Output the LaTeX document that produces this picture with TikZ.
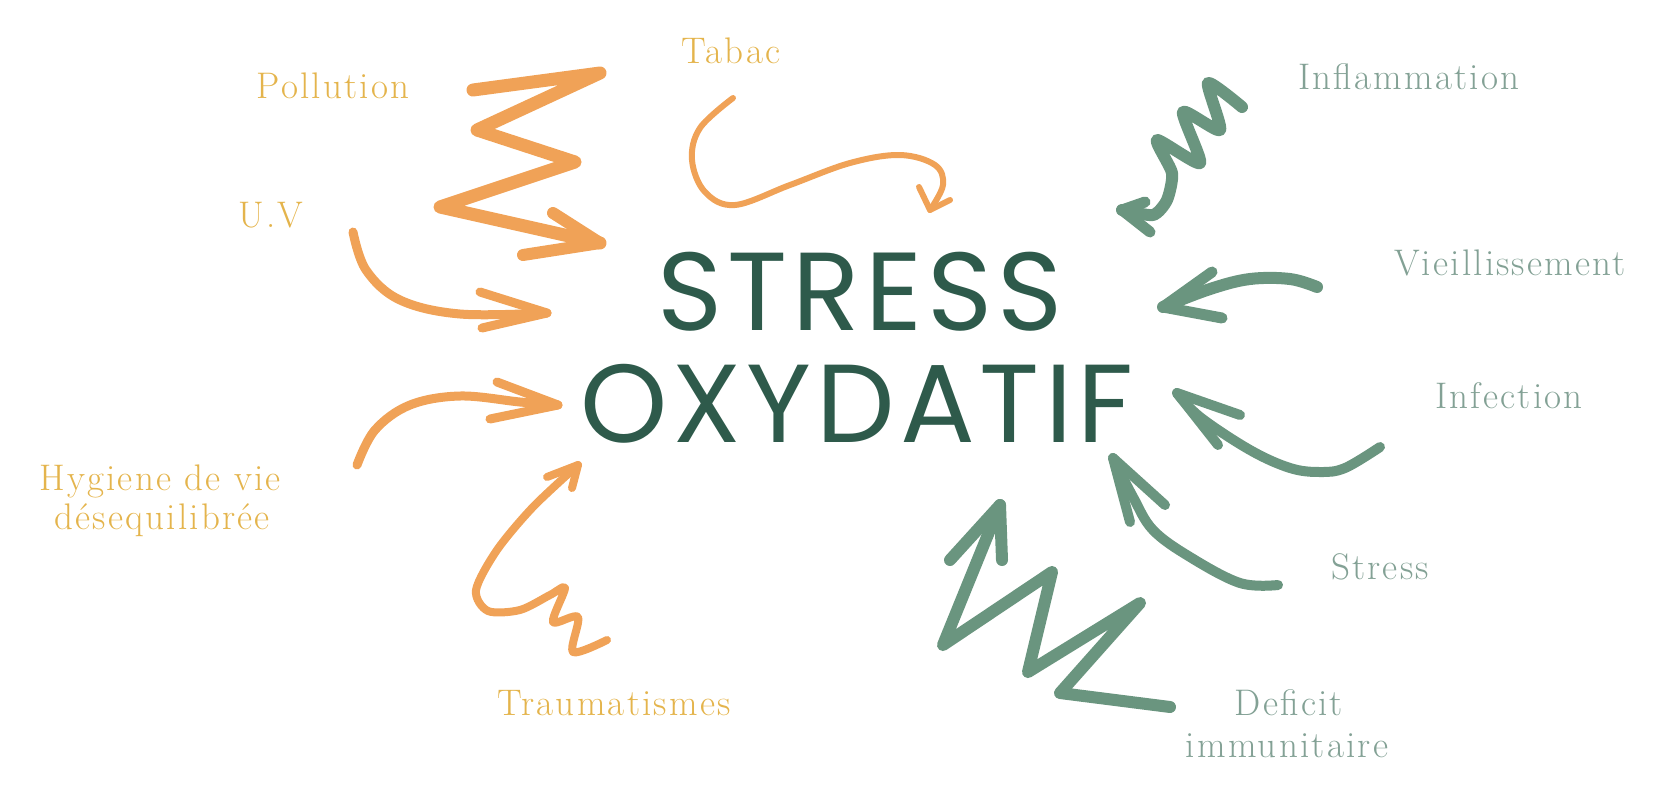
\documentclass[tikz,border=0pt]{standalone}
\usepackage{fontspec}
\newfontfamily\titlefont{Poppins}[LetterSpace=4.5]
\newfontfamily\labelfont{Latin Modern Roman}[LetterSpace=6]

\definecolor{arroworange}{HTML}{F0A257}
\definecolor{labelorange}{HTML}{E4B44C}
\definecolor{arrowgreen}{HTML}{6A957F}
\definecolor{labelgreen}{HTML}{83A195}
\definecolor{titlegreen}{HTML}{2E5A4B}

\begin{document}
\begin{tikzpicture}[x=1pt, y=-1pt,
  orangearrow/.style={draw=arroworange, line width=#1pt, line cap=round, line join=round},
  greenarrow/.style={draw=arrowgreen, line width=#1pt, line cap=round, line join=round},
  orangelabel/.style={text=labelorange, font=\labelfont\fontsize{37}{40}\selectfont, anchor=base, inner sep=0pt},
  greenlabel/.style={text=labelgreen, font=\labelfont\fontsize{37}{40}\selectfont, anchor=base, inner sep=0pt},
  titleline/.style={text=titlegreen, font=\titlefont\fontsize{111}{111}\selectfont, anchor=base, inner sep=0pt}]

  \useasboundingbox (0,0) rectangle (1659,787);

  % Title
  \node[titleline] (stress) at (860,330) {STRESS};
  \node[titleline] (oxydatif) at (857,442) {OXYDATIF};

  % Labels on the left
  \node[orangelabel] (tabac) at (731,63) {Tabac};
  \node[orangelabel] (pollution) at (333,98) {Pollution};
  \node[orangelabel] (uv) at (271,227) {U.V};
  \node[orangelabel] (hygiene) at (160,490) {Hygiene de vie};
  \node[orangelabel] (desequilibree) at (162,529) {désequilibrée};
  \node[orangelabel] (traumatismes) at (614,715) {Traumatismes};

  % Labels on the right
  \node[greenlabel] (inflammation) at (1409,89) {Inflammation};
  \node[greenlabel] (vieillissement) at (1510,275) {Vieillissement};
  \node[greenlabel] (infection) at (1509,408) {Infection};
  \node[greenlabel] (stresslabel) at (1380,579) {Stress};
  \node[greenlabel] (deficit) at (1289,715) {Deficit};
  \node[greenlabel] (immunitaire) at (1287,757) {immunitaire};

  % Orange arrows
  \draw[orangearrow=13] (473,90) -- (600,73) -- (477,130) -- (575,162) -- (440,207) -- (600,243); % Pollution
  \draw[orangearrow=12] (553,213) -- (600,243) -- (523,255);
  \draw[orangearrow=9] plot[smooth, tension=0.6] coordinates {(353,232) (366,270) (400,300) (460,314) (547,313)}; % U.V
  \draw[orangearrow=9] (480,292) -- (547,313) -- (482,328);
  \draw[orangearrow=6] plot[smooth, tension=0.6] coordinates {(733,98) (700,128) (692,160) (705,192) (735,205) (790,185) (850,163) (900,155) (935,165) (943,185) (930,210)}; % Tabac
  \draw[orangearrow=6] (919,187) -- (930,210) -- (950,200);
  \draw[orangearrow=9] plot[smooth, tension=0.6] coordinates {(357,465) (375,430) (410,405) (460,396) (520,402) (558,405)}; % Hygiene
  \draw[orangearrow=9] (497,382) -- (558,405) -- (490,419);
  \draw[orangearrow=8] plot[smooth, tension=0.5] coordinates {(578,465) (533,507) (497,550) (476,590) (488,611) (520,610) (550,595) (565,588) (553,622) (578,617) (573,652) (607,640)}; % Traumatismes
  \draw[orangearrow=8] (547,477) -- (578,465) -- (572,488);

  % Green arrows
  \draw[greenarrow=12] plot[smooth, tension=0.4] coordinates {(1242,107) (1208,83) (1220,130) (1183,112) (1200,163) (1157,140) (1172,173) (1167,200) (1153,215) (1122,210)}; % Inflammation
  \draw[greenarrow=11] (1145,202) -- (1122,210) -- (1150,232);
  \draw[greenarrow=12] plot[smooth, tension=0.6] coordinates {(1317,287) (1290,279) (1250,279) (1210,289) (1163,307)}; % Vieillissement
  \draw[greenarrow=11] (1212,272) -- (1163,307) -- (1222,318);
  \draw[greenarrow=10] plot[smooth, tension=0.6] coordinates {(1380,447) (1345,468) (1320,472) (1290,468) (1250,450) (1200,417) (1177,393)}; % Infection
  \draw[greenarrow=10] (1240,415) -- (1177,393) -- (1218,445);
  \draw[greenarrow=10] plot[smooth, tension=0.6] coordinates {(1278,585) (1240,583) (1190,557) (1153,530) (1133,497) (1113,458)}; % Stress
  \draw[greenarrow=10] (1165,505) -- (1113,458) -- (1130,522);
  \draw[greenarrow=12] (1170,707) -- (1060,693) -- (1140,603) -- (1028,672) -- (1052,572) -- (943,645) -- (1000,505); % Deficit
  \draw[greenarrow=12] (950,560) -- (1000,505) -- (1002,560);

\end{tikzpicture}
\end{document}
